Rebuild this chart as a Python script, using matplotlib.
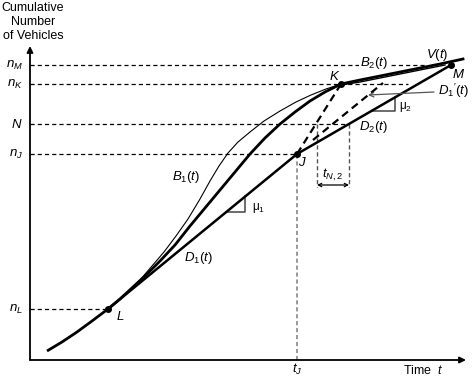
import matplotlib
matplotlib.use("Agg")
import matplotlib.pyplot as plt

plt.rcParams['font.family'] = ['Liberation Sans', 'DejaVu Sans']
plt.rcParams['mathtext.fontset'] = 'custom'
plt.rcParams['mathtext.rm'] = 'Liberation Sans'
plt.rcParams['mathtext.it'] = 'Liberation Sans:italic'
plt.rcParams['lines.scale_dashes'] = False

# ---- schematic data (t = time units, n = cumulative vehicles) ----
start_t = [17, 32, 47, 62, 78]
start_n = [9, 18, 28, 39, 51]

b1_t = [78, 88, 98, 110, 122, 134, 146, 158, 170, 180, 189, 198, 208, 220, 234, 250, 266, 281, 296, 311]
b1_n = [51, 59, 68, 80, 94, 108, 124, 141, 161, 179, 194, 207, 218, 228, 239, 249, 258, 265, 271, 276]

v_t = [78, 90, 103, 116, 130, 145, 160, 175, 190, 205, 220, 235, 250, 265, 280, 295, 311]
v_n = [51, 61, 73, 85, 99, 115, 134, 152, 170, 188, 206, 222, 236, 248, 259, 268, 276]

b2_thick_t = [311, 330, 350, 380, 410, 433]
b2_thick_n = [276, 280, 284, 290, 296, 301]
b2_thin_t = [311, 330, 350, 380, 415]
b2_thin_n = [275, 278, 282, 288, 295]

pt_L = (78, 51)
pt_J = (267, 206)
pt_K = (311, 276)
pt_M = (421, 295)

d1p_t = [283, 353]
d1p_n = [220, 277]

levels = {'n_M': 295, 'n_K': 276, 'N': 236, 'n_J': 206, 'n_L': 51}
level_ends = {'n_M': 395, 'n_K': 378, 'N': 319, 'n_J': 267, 'n_L': 78}
level_labels = {'n_M': r'$n_M$', 'n_K': r'$n_K$', 'N': r'$N$', 'n_J': r'$n_J$', 'n_L': r'$n_L$'}

tN2 = (287, 319)

fig = plt.figure(figsize=(4.74, 3.77), dpi=100)
ax = fig.add_axes([0, 0, 1, 1])
ax.set_xlim(-30, 444)
ax.set_ylim(-17, 360)
ax.axis('off')

# axes arrows
ax.annotate('', xy=(436, 0), xytext=(0, 0),
            arrowprops=dict(arrowstyle='-|>', lw=1.3, color='black', mutation_scale=9, shrinkA=0, shrinkB=0))
ax.annotate('', xy=(0, 314), xytext=(0, 0),
            arrowprops=dict(arrowstyle='-|>', lw=1.3, color='black', mutation_scale=9, shrinkA=0, shrinkB=0))

# horizontal dashed reference lines and labels
for key, lv in levels.items():
    ax.plot([0, level_ends[key]], [lv, lv], color='black', lw=0.9, ls=(0, (3, 2.2)), zorder=1)
    ax.text(-7, lv, level_labels[key], ha='right', va='center', fontsize=9.5)

# vertical dashed lines
ax.plot([pt_J[0], pt_J[0]], [0, pt_J[1]], color='#888888', lw=1.2, ls=(0, (3, 2)), zorder=1)
for x in tN2:
    ax.plot([x, x], [levels['N'], 173], color='#555555', lw=1.0, ls=(0, (3, 2)), zorder=1)
ax.annotate('', xy=(tN2[1], 175), xytext=(tN2[0], 175),
            arrowprops=dict(arrowstyle='<->', lw=0.9, color='black', mutation_scale=6, shrinkA=0, shrinkB=0))

# curves
ax.plot(start_t, start_n, color='black', lw=2.0, solid_capstyle='butt', zorder=3)
ax.plot(b1_t, b1_n, color='black', lw=0.8, zorder=3)
ax.plot(v_t, v_n, color='black', lw=2.0, zorder=3)
ax.plot(b2_thick_t, b2_thick_n, color='black', lw=2.0, zorder=3)
ax.plot(b2_thin_t, b2_thin_n, color='black', lw=1.0, zorder=3)
ax.plot([pt_L[0], pt_J[0]], [pt_L[1], pt_J[1]], color='black', lw=1.8, zorder=3)
ax.plot([pt_J[0], pt_M[0]], [pt_J[1], pt_M[1]], color='black', lw=1.8, zorder=3)
ax.plot([pt_J[0], pt_K[0]], [pt_J[1], pt_K[1]], color='black', lw=1.6, ls=(0, (5.5, 3.5)), zorder=3)
ax.plot(d1p_t, d1p_n, color='black', lw=1.6, ls=(0, (5.5, 3.5)), zorder=3)

# points
for p in (pt_L, pt_J, pt_K, pt_M):
    ax.plot(p[0], p[1], 'o', color='black', ms=4, zorder=4)

# slope triangles
ax.plot([196, 215, 215], [148, 148, 164], color='#444444', lw=1.1, zorder=2)
ax.plot([342, 365, 365], [249, 249, 263], color='#444444', lw=1.1, zorder=2)
ax.text(222, 152, r'$\mathrm{\mu}_1$', fontsize=8.5, ha='left', va='center')
ax.text(369, 253, r'$\mathrm{\mu}_2$', fontsize=8.5, ha='left', va='center')

# D1' pointer
ax.annotate('', xy=(338, 265), xytext=(404, 268),
            arrowprops=dict(arrowstyle='->', lw=0.9, color='#555555', mutation_scale=8, shrinkA=0, shrinkB=0))

# labels
fs = 9.5
ax.text(90, 44, r'$L$', fontsize=fs, ha='center', va='center')
ax.text(272, 197, r'$J$', fontsize=fs, ha='center', va='center')
ax.text(305, 283, r'$K$', fontsize=fs, ha='center', va='center')
ax.text(429, 285, r'$M$', fontsize=fs, ha='center', va='center')
ax.text(407, 305, r'$V(t)$', fontsize=fs, ha='center', va='center')
ax.text(344, 297, r'$B_2(t)$', fontsize=fs, ha='center', va='center',
        bbox=dict(facecolor='white', edgecolor='none', pad=0.5))
ax.text(408, 269, r"$D_1{}'(t)$", fontsize=fs, ha='left', va='center')
ax.text(343, 233, r'$D_2(t)$', fontsize=fs, ha='center', va='center')
ax.text(156, 183, r'$B_1(t)$', fontsize=fs, ha='center', va='center')
ax.text(168, 102, r'$D_1(t)$', fontsize=fs, ha='center', va='center')
ax.text(303, 185, r'$t_{N,2}$', fontsize=fs, ha='center', va='center')
ax.text(267, -9, r'$t_J$', fontsize=fs, ha='center', va='center')
ax.text(373, -10, r'Time  $t$', fontsize=9, ha='left', va='center')
ax.text(3, 338, 'Cumulative\nNumber\nof Vehicles', fontsize=9, ha='center', va='center',
        linespacing=1.2)

fig.savefig('out.png', dpi=100)
